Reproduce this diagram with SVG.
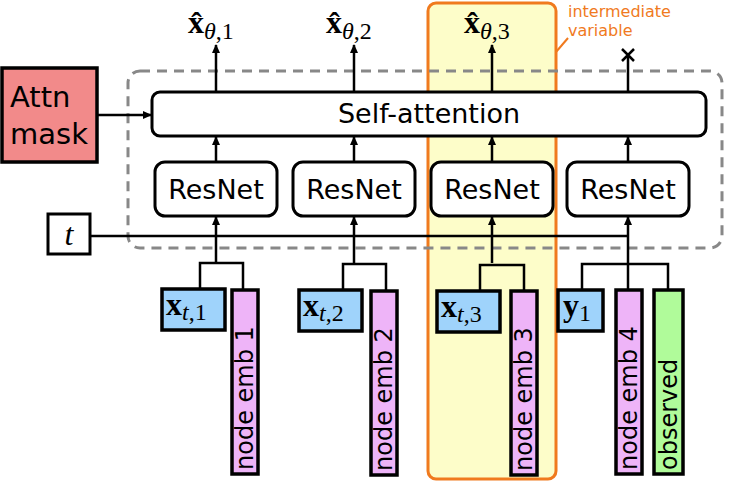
<svg xmlns="http://www.w3.org/2000/svg" width="735" height="482" viewBox="0 0 735 482">
<defs>
<marker id="ah" markerWidth="10" markerHeight="10" refX="8" refY="5" orient="auto" markerUnits="userSpaceOnUse"><path d="M0,1 L9,5 L0,9 Z" fill="#000"/></marker>
<style>
.box{fill:#fff;stroke:#000;stroke-width:3}
.lbl{font-family:"DejaVu Sans",sans-serif;font-size:27px;fill:#000}
.ln{stroke:#000;stroke-width:2.5;fill:none}
.arr{stroke:#000;stroke-width:2.5;fill:none;marker-end:url(#ah)}
.blue{fill:#9fd3fb;stroke:#000;stroke-width:3.5}
.pink{fill:#eeb4f8;stroke:#000;stroke-width:3.5}
.green{fill:#b0fb9a;stroke:#000;stroke-width:3.5}
.m{font-family:"Liberation Serif",serif;font-size:32px;fill:#000}
.v{font-family:"DejaVu Sans",sans-serif;font-size:24px;fill:#000}
</style>
</defs>
<rect x="428" y="3" width="128" height="476" rx="8" fill="#fdfdc9" stroke="#f07a1e" stroke-width="3"/>
<g id="dashed"><rect x="128" y="71" width="594" height="177" rx="12" fill="none" stroke="#888" stroke-width="3" stroke-dasharray="10,7"/></g>
<g id="connectors">
<line class="arr" x1="97" y1="115" x2="151" y2="115"/>
<line class="ln" x1="90" y1="236" x2="628" y2="236"/>
<line class="arr" x1="216" y1="92" x2="216" y2="45"/>
<line class="arr" x1="354" y1="92" x2="354" y2="45"/>
<line class="arr" x1="492" y1="92" x2="492" y2="45"/>
<line class="ln" x1="628" y1="92" x2="628" y2="55"/>
<path class="ln" d="M622,49 L634,61 M634,49 L622,61"/>
<line class="arr" x1="216" y1="162" x2="216" y2="137"/>
<line class="arr" x1="354" y1="162" x2="354" y2="137"/>
<line class="arr" x1="492" y1="162" x2="492" y2="137"/>
<line class="arr" x1="628" y1="162" x2="628" y2="137"/>
<line class="arr" x1="216" y1="263" x2="216" y2="217"/>
<line class="arr" x1="354" y1="263" x2="354" y2="217"/>
<line class="arr" x1="492" y1="263" x2="492" y2="217"/>
<line class="arr" x1="628" y1="290" x2="628" y2="217"/>
<path class="ln" d="M200,290 V263 H243 V290"/>
<path class="ln" d="M343,291 V264 H386 V291"/>
<path class="ln" d="M480,291 V265 H524 V291"/>
<path class="ln" d="M582,290 V264 H668 V290"/>
<path d="M556,52 L568,38" stroke="#f07a1e" stroke-width="2" fill="none"/>
</g>
<text x="568" y="17" font-family="DejaVu Sans,sans-serif" font-size="16" fill="#f07a1e">intermediate</text>
<text x="568" y="36" font-family="DejaVu Sans,sans-serif" font-size="16" fill="#f07a1e">variable</text>
<g id="attnmask"><rect x="2" y="68" width="95" height="94" fill="#f28a8a" stroke="#000" stroke-width="3.5"/><text class="lbl" x="10" y="107" style="font-size:29px">Attn</text><text class="lbl" x="10" y="144" style="font-size:29px">mask</text></g>
<g id="selfatt"><rect class="box" x="152" y="92" width="554" height="44" rx="8"/><text class="lbl" x="429" y="123" text-anchor="middle">Self-attention</text></g>
<g id="resnet1"><rect class="box" x="155" y="162" width="122" height="54" rx="10"/><text class="lbl" x="216" y="199" text-anchor="middle">ResNet</text></g>
<g id="resnet2"><rect class="box" x="293" y="162" width="122" height="54" rx="10"/><text class="lbl" x="354" y="199" text-anchor="middle">ResNet</text></g>
<g id="resnet3"><rect class="box" x="431" y="162" width="122" height="54" rx="10"/><text class="lbl" x="492" y="199" text-anchor="middle">ResNet</text></g>
<g id="resnet4"><rect class="box" x="567" y="162" width="122" height="54" rx="10"/><text class="lbl" x="628" y="199" text-anchor="middle">ResNet</text></g>
<g id="t"><rect class="box" x="48" y="214" width="42" height="40"/><text class="m" x="69" y="245" text-anchor="middle" font-style="italic">t</text></g>
<g id="out1"><text class="m" x="188" y="33"><tspan font-weight="bold">x̂</tspan><tspan font-size="24" font-style="italic" dy="6">θ</tspan><tspan font-size="24">,1</tspan></text></g>
<g id="out2"><text class="m" x="326" y="33"><tspan font-weight="bold">x̂</tspan><tspan font-size="24" font-style="italic" dy="6">θ</tspan><tspan font-size="24">,2</tspan></text></g>
<g id="out3"><text class="m" x="464" y="33"><tspan font-weight="bold">x̂</tspan><tspan font-size="24" font-style="italic" dy="6">θ</tspan><tspan font-size="24">,3</tspan></text></g>
<g id="x1"><rect class="blue" x="162" y="289" width="63" height="41"/><text class="m" x="166" y="315"><tspan font-weight="bold">x</tspan><tspan font-size="24" font-style="italic" dy="5">t</tspan><tspan font-size="24">,1</tspan></text></g>
<g id="x2"><rect class="blue" x="299" y="290" width="63" height="41"/><text class="m" x="303" y="316"><tspan font-weight="bold">x</tspan><tspan font-size="24" font-style="italic" dy="5">t</tspan><tspan font-size="24">,2</tspan></text></g>
<g id="x3"><rect class="blue" x="437" y="291" width="63" height="41"/><text class="m" x="441" y="317"><tspan font-weight="bold">x</tspan><tspan font-size="24" font-style="italic" dy="5">t</tspan><tspan font-size="24">,3</tspan></text></g>
<g id="y1"><rect class="blue" x="558" y="290" width="45" height="41"/><text class="m" x="563" y="316"><tspan font-weight="bold">y</tspan><tspan font-size="24" dy="5">1</tspan></text></g>
<g id="emb1"><rect class="pink" x="232" y="290" width="26" height="184"/><text class="v" transform="translate(253,470) rotate(-90)">node emb 1</text></g>
<g id="emb2"><rect class="pink" x="371" y="291" width="26" height="184"/><text class="v" transform="translate(392,471) rotate(-90)">node emb 2</text></g>
<g id="emb3"><rect class="pink" x="511" y="291" width="26" height="184"/><text class="v" transform="translate(532,471) rotate(-90)">node emb 3</text></g>
<g id="emb4"><rect class="pink" x="616" y="290" width="26" height="184"/><text class="v" transform="translate(637,470) rotate(-90)">node emb 4</text></g>
<g id="observed"><rect class="green" x="654" y="290" width="29" height="184"/><text class="v" transform="translate(677,470) rotate(-90)">observed</text></g>
</svg>
